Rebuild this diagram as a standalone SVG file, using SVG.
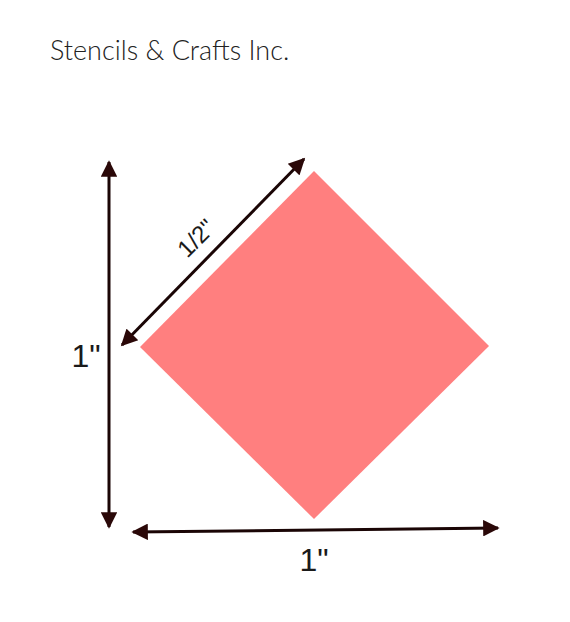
<svg xmlns="http://www.w3.org/2000/svg" width="570" height="622" viewBox="0 0 570 622">
<style>
.dim{stroke:#1a0505;stroke-width:3;fill:none;marker-start:url(#ah);marker-end:url(#ah)}
.lbl{font-family:"Liberation Sans",Arial,sans-serif;fill:#1a1a1a}
</style>
<defs>
<marker id="ah" viewBox="0 0 10 10" refX="9" refY="5" markerWidth="6" markerHeight="5.5" orient="auto-start-reverse" markerUnits="strokeWidth">
<path d="M0,0 L10,5 L0,10 Z" fill="#2a0808"/>
</marker>
</defs>
<rect width="570" height="622" fill="#fff"/>
<text x="50" y="60" font-family="Lato,'Open Sans',sans-serif" font-weight="300" font-size="27" fill="#222">Stencils &amp; Crafts Inc.</text>
<g id="diamond">
<polygon points="314,171 489,346 314,519 140,347" fill="#FF7F7F"/>
</g>
<g id="connectors">
<line class="dim" x1="109" y1="162" x2="109" y2="527"/>
<line class="dim" x1="133" y1="532" x2="498" y2="528"/>
<line class="dim" x1="122" y1="345" x2="304" y2="159"/>
</g>
<g id="labels">
<text class="lbl" x="86" y="367" font-size="32" text-anchor="middle">1"</text>
<text class="lbl" x="314" y="571" font-size="32" text-anchor="middle">1"</text>
<text class="lbl" x="0" y="0" font-size="24" text-anchor="middle" transform="translate(202,244) rotate(-45)">1/2"</text>
</g>
</svg>
